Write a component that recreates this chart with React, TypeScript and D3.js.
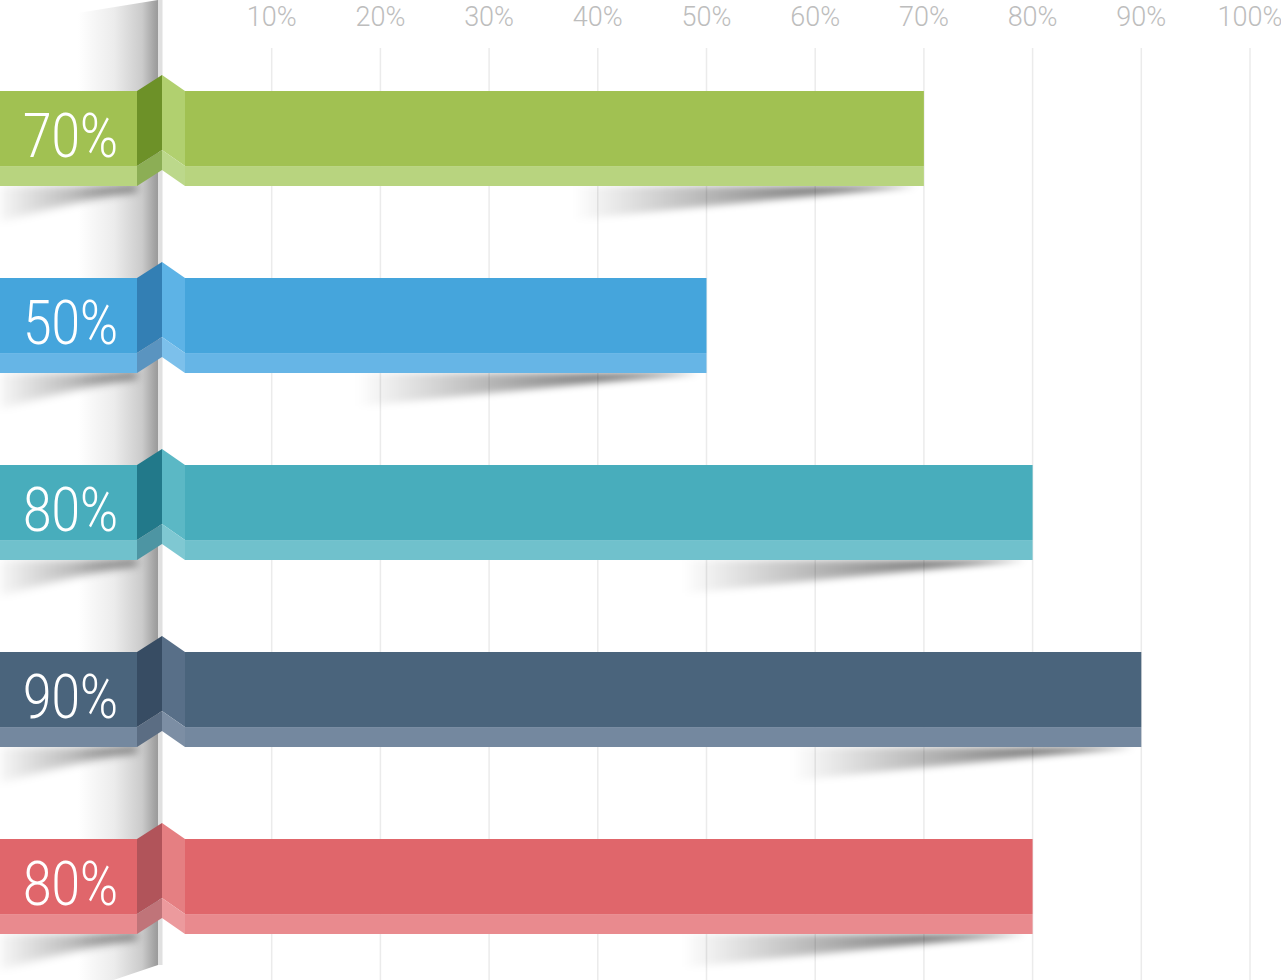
import React from "react";
import * as d3 from "d3";

const categories = ["A", "B", "C", "D", "E"];
const values = [70, 50, 80, 90, 80];
const ticks = [10, 20, 30, 40, 50, 60, 70, 80, 90, 100];

const mainColors = ["#a1c152", "#45a5dc", "#48adbc", "#4a647c", "#e0666b"];
const lowerColors = ["#b8d47f", "#66b5e6", "#70c1cc", "#74889f", "#e98a8e"];
const foldDark = ["#6d9128", "#337fb4", "#22798a", "#374c63", "#b1545a"];
const foldDarkLow = ["#8cae55", "#5a94c0", "#4d95a3", "#5b6d83", "#c07479"];
const foldLight = ["#b1d06f", "#5db3e6", "#5bb8c5", "#586f88", "#e57f82"];
const foldLightLow = ["#bcd88b", "#7cc0eb", "#7fc8d2", "#7c8ea4", "#ec9a9d"];

const W = 1281;
const H = 980;

export default function App() {
  const x = d3.scaleLinear().domain([0, 100]).range([163, 1250]);
  const y = d3
    .scaleBand<string>()
    .domain(categories)
    .range([91, 934])
    .paddingInner(0.492)
    .paddingOuter(0);
  const bh = y.bandwidth();
  const mainH = bh * 0.79;
  const fx0 = 137;
  const fx1 = 162;
  const fx2 = 185;
  const rise = 16;

  const poly = (pts: [number, number][]) => "M" + pts.map((p) => p.join(",")).join("L") + "Z";

  return (
    <svg
      width={W}
      height={H}
      style={{ position: "absolute", left: 0, top: 0, display: "block", background: "#fff" }}
      fontFamily="Roboto, 'Open Sans', sans-serif"
    >
      <defs>
        <linearGradient id="spineGrad" x1="0" x2="1" y1="0" y2="0">
          <stop offset="0" stopColor="#ffffff" />
          <stop offset="0.45" stopColor="#ececec" />
          <stop offset="0.8" stopColor="#cbcbcb" />
          <stop offset="0.96" stopColor="#a2a2a2" />
          <stop offset="1" stopColor="#9a9a9a" />
        </linearGradient>
        <linearGradient id="shadowR" x1="0" x2="1" y1="0" y2="0">
          <stop offset="0" stopColor="#000" stopOpacity="0" />
          <stop offset="0.3" stopColor="#000" stopOpacity="0.22" />
          <stop offset="0.7" stopColor="#000" stopOpacity="0.5" />
          <stop offset="1" stopColor="#000" stopOpacity="0.6" />
        </linearGradient>
        <linearGradient id="shadowL" x1="0" x2="1" y1="0" y2="0">
          <stop offset="0" stopColor="#000" stopOpacity="0.03" />
          <stop offset="0.5" stopColor="#000" stopOpacity="0.25" />
          <stop offset="1" stopColor="#000" stopOpacity="0.55" />
        </linearGradient>
        <filter id="blur" x="-20%" y="-50%" width="140%" height="200%">
          <feGaussianBlur stdDeviation="3.5" />
        </filter>
        <filter id="blurL" x="-20%" y="-50%" width="140%" height="200%">
          <feGaussianBlur stdDeviation="4" />
        </filter>
      </defs>

      {/* grid lines */}
      {ticks.map((t) => (
        <line key={"g" + t} x1={x(t)} x2={x(t)} y1={48} y2={H} stroke="#ebebeb" strokeWidth={1.5} />
      ))}
      {/* tick labels */}
      {ticks.map((t) => (
        <text
          key={"t" + t}
          x={x(t)}
          y={26}
          textAnchor="middle"
          fontSize={27}
          fontWeight={300}
          fill="#bdbdbd"
        >
          {t + "%"}
        </text>
      ))}

      {/* spine */}
      <path d={poly([[78, 13], [158, 0], [158, 965], [78, 992]])} fill="url(#spineGrad)" />
      <rect x={158} y={0} width={4.5} height={965} fill="#e0e0e0" />

      {categories.map((c, i) => {
        const top = y(c)!;
        const bot = top + bh;
        const mid = top + mainH;
        const end = x(values[i]);
        return (
          <g key={c}>
            {/* shadows */}
            <path
              d={`M${end - 8},${bot} L${end - 350},${bot} L${end - 350},${bot + 34} Q${end - 200},${bot + 18} ${end - 8},${bot} Z`}
              fill="url(#shadowR)"
              filter="url(#blur)"
            />
            <path
              d={`M${fx0},${bot} L0,${bot} L0,${bot + 36} Q${fx0 - 60},${bot + 14} ${fx0},${bot + 5} Z`}
              fill="url(#shadowL)"
              filter="url(#blurL)"
            />
            {/* left label part */}
            <rect x={0} y={top} width={fx0} height={mainH} fill={mainColors[i]} />
            <rect x={0} y={mid} width={fx0} height={bh - mainH} fill={lowerColors[i]} />
            {/* fold dark */}
            <path d={poly([[fx0, top], [fx1, top - rise], [fx1, mid - rise], [fx0, mid]])} fill={foldDark[i]} />
            <path d={poly([[fx0, mid], [fx1, mid - rise], [fx1, bot - rise], [fx0, bot]])} fill={foldDarkLow[i]} />
            {/* fold light */}
            <path d={poly([[fx1, top - rise], [fx2, top], [fx2, mid], [fx1, mid - rise]])} fill={foldLight[i]} />
            <path d={poly([[fx1, mid - rise], [fx2, mid], [fx2, bot], [fx1, bot - rise]])} fill={foldLightLow[i]} />
            {/* main bar */}
            <rect x={fx2} y={top} width={end - fx2} height={mainH} fill={mainColors[i]} />
            <rect x={fx2} y={mid} width={end - fx2} height={bh - mainH} fill={lowerColors[i]} />
            {/* value label */}
            <text
              x={23}
              y={top + 66}
              fontSize={62}
              fontWeight={300}
              fill="#ffffff"
              textLength={95}
              lengthAdjust="spacingAndGlyphs"
            >
              {values[i] + "%"}
            </text>
          </g>
        );
      })}
    </svg>
  );
}
